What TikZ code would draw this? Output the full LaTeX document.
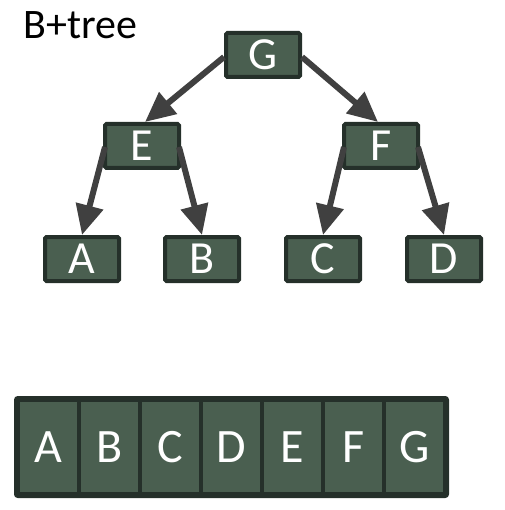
\documentclass[tikz,border=0pt]{standalone}
\usepackage{fontspec}
\setmainfont{Carlito}
\usepackage{xcolor}
\usepackage{tikz}
\usetikzlibrary{arrows.meta, positioning, calc}
\definecolor{hoja}{HTML}{4A5F50}
\definecolor{borde}{HTML}{25302A}
\definecolor{flecha}{HTML}{404040}
\tikzset{
  caja/.style={draw=borde, fill=hoja, line width=4pt, rounded corners=1.5pt,
    minimum width=74pt, minimum height=44pt, inner sep=0pt,
    text=white, font=\fontsize{46}{46}\selectfont},
  celda/.style={draw=borde, fill=hoja, line width=4pt,
    minimum width=61pt, minimum height=94pt, inner sep=0pt,
    text=white, font=\fontsize{48}{48}\selectfont},
  enlace/.style={draw=flecha, line width=6pt,
    -{Triangle[width=27pt,length=30pt]}}
}
\newcommand{\caja}[3]{%
  \node[caja] (#1) at (#2) {#3};%
}
\begin{document}
\begin{tikzpicture}[x=1pt, y=-1pt]
        \useasboundingbox (0,0) rectangle (504,510);
        \node[anchor=west, font=\fontsize{42}{42}\selectfont] (titulo) at (20,25) {B+tree};
        % arbol
        \caja{G}{263,55}{G}
        \caja{E}{142,146}{E}
        \caja{F}{381,146}{F}
        \caja{A}{82,259}{A}
        \caja{B}{202,259}{B}
        \caja{C}{323,259}{C}
        \caja{D}{444,259}{D}
        \draw[enlace] ($(G.west)+(0,2)$) -- ($(E.north)+(3,0)$);
        \draw[enlace] ($(G.east)+(0,2)$) -- ($(F.north)+(-3,0)$);
        \draw[enlace] ($(E.west)+(2,1)$) -- ($(A.north)+(0,0)$);
        \draw[enlace] ($(E.east)+(-2,1)$) -- ($(B.north)+(0,0)$);
        \draw[enlace] ($(F.west)+(2,1)$) -- ($(C.north)+(0,0)$);
        \draw[enlace] ($(F.east)+(-2,1)$) -- ($(D.north)+(0,0)$);
        % hojas en fila
        \foreach \l [count=\i] in {A,B,C,D,E,F,G} {
          \node[celda] (h\l) at (18+61*\i-30.5,447) {\l};
        }
        \draw[borde, line width=4pt, rounded corners=2pt] (hA.north west) rectangle (hG.south east);
      \end{tikzpicture}
\end{document}
